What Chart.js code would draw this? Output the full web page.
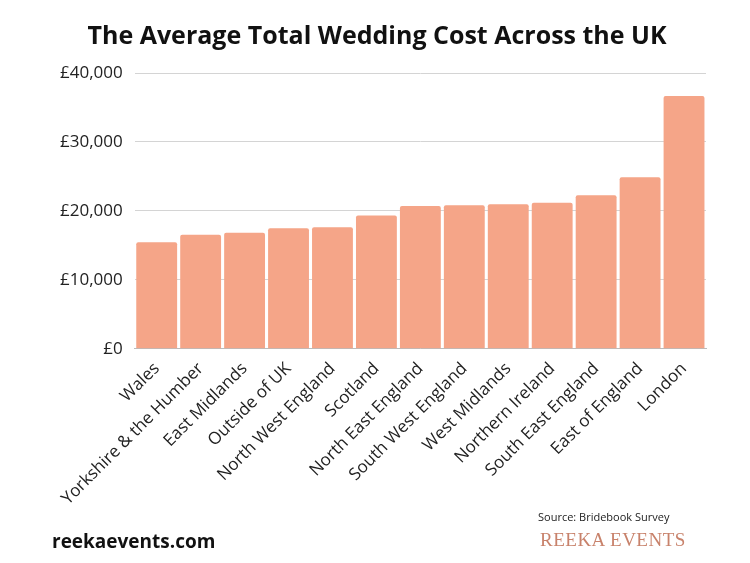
<!DOCTYPE html>
<html>
<head>
<meta charset="utf-8">
<script src="https://cdn.jsdelivr.net/npm/chart.js@4/dist/chart.umd.min.js"></script>
<style>
    html, body { margin: 0; padding: 0; background: #fff; }
    #wrap { position: relative; width: 750px; height: 563px; }
    .site { position: absolute; left: 52px; top: 528px; font: bold 19px "Open Sans", sans-serif; color: #111; }
    .source { position: absolute; left: 538px; top: 509px; font: 11px "Open Sans", sans-serif; color: #222; }
    .brand { position: absolute; left: 540px; top: 529px; font: 19px "Liberation Serif", serif; color: #c8826b; letter-spacing: 0.5px; }
</style>
</head>
<body>
<div id="wrap">
    <canvas id="costChart" width="750" height="563"></canvas>
    <div class="source">Source: Bridebook Survey</div>
    <div class="site">reekaevents.com</div>
    <div class="brand">REEKA EVENTS</div>
</div>
<script>
// Regions, cheapest to most expensive
const regions = ['Wales', 'Yorkshire & the Humber', 'East Midlands', 'Outside of UK', 'North West England',
    'Scotland', 'North East England', 'South West England', 'West Midlands', 'Northern Ireland',
    'South East England', 'East of England', 'London'];

// Average total wedding cost (GBP)
const avgCost = [15450, 16520, 16810, 17480, 17630, 19320, 20720, 20820, 20960, 21160, 22270, 24880, 36670];

const yTicks = [0, 10000, 20000, 30000, 40000];

function loadChart() {
    const ctx = document.getElementById('costChart');
    new Chart(ctx, {
        type: 'bar',
        data: {
            labels: regions,
            datasets: [{
                label: 'Average cost',
                data: avgCost,
                backgroundColor: '#f5a588',
                borderRadius: 2,
                borderSkipped: 'bottom',
                categoryPercentage: 0.93,
                barPercentage: 1.0
            }]
        },
        options: {
            responsive: false,
            animation: false,
            layout: { padding: { left: 48, right: 44, top: 10, bottom: 52 } },
            plugins: {
                legend: { display: false },
                tooltip: { enabled: false },
                title: {
                    display: true,
                    text: 'The Average Total Wedding Cost Across the UK',
                    color: '#111',
                    font: { family: 'Open Sans', size: 25, weight: 'bold' },
                    padding: { top: 12, bottom: 21 }
                }
            },
            scales: {
                x: {
                    grid: { display: false },
                    border: { color: '#bbb' },
                    ticks: {
                        autoSkip: false,
                        minRotation: 45,
                        maxRotation: 45,
                        color: '#222',
                        padding: 2,
                        font: { family: 'Open Sans', size: 17 }
                    }
                },
                y: {
                    min: 0,
                    max: 40000,
                    afterBuildTicks: axis => { axis.ticks = yTicks.map(v => ({ value: v })); },
                    grid: { color: '#d4d4d4', drawTicks: false },
                    border: { display: false },
                    ticks: {
                        color: '#222',
                        padding: 12,
                        font: { family: 'Open Sans', size: 17 },
                        callback: v => '£' + v.toLocaleString('en-GB')
                    }
                }
            }
        }
    });
}

loadChart();
</script>
</body>
</html>
